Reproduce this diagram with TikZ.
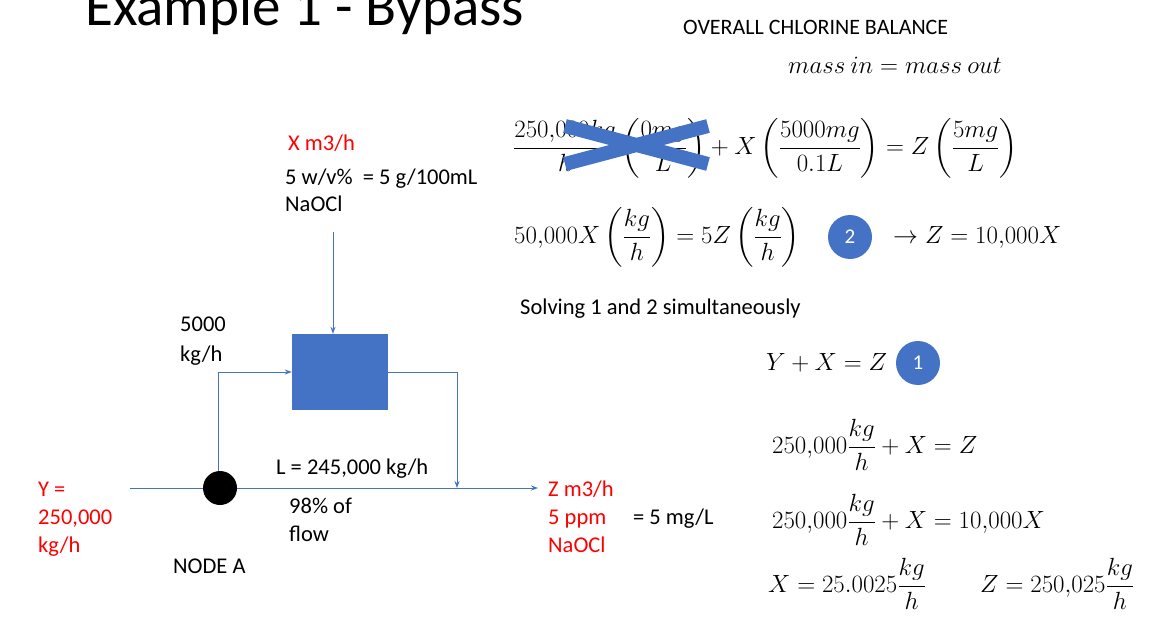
\documentclass[tikz,border=0pt]{standalone}
\usepackage{fontspec}
\setmainfont{Carlito}
\usepackage{amsmath}
\usetikzlibrary{arrows.meta}
\definecolor{bl}{HTML}{4472C4}
\definecolor{rd}{HTML}{FF0000}
\begin{document}
\begin{tikzpicture}[x=1pt,y=-1pt,
  t/.style={anchor=base west,inner sep=0,font=\fontsize{22.5}{24}\selectfont},
  m/.style={anchor=west,inner sep=0,font=\fontsize{23}{28}\selectfont},
  ln/.style={bl,line width=1pt},
  ar/.style={ln,-{Stealth[length=7pt,width=5pt]}},
  num/.style={circle,fill=bl,minimum size=44pt,inner sep=0,text=white,font=\fontsize{21}{24}\selectfont}]
\useasboundingbox (0,0) rectangle (1170,623);
\node[t,font=\fontsize{57}{60}\selectfont] (title) at (85,26) {Example 1 - Bypass};
% flowsheet
\node[circle,fill=black,minimum size=34pt,inner sep=0] (A) at (220,488) {};
\coordinate (in) at (130,488);
\coordinate (out) at (538,488);
\node[fill=bl,minimum width=96pt,minimum height=76pt,inner sep=0] (box) at (340,372) {};
\coordinate (top) at (333,232);
\coordinate (c1) at (218,372);
\coordinate (c2) at (457,372);
\coordinate (c3) at (457,488);
\draw[ln] (in) -- (A);
\draw[ar] (A) -- (out);
\draw[ar] (A.north -| c1) -- (c1) -- (box.west);
\draw[ar] (box.east) -- (c2) -- (c3);
\draw[ar] (top) -- (box.north -| top);
\node[t,text=rd] (xm) at (288,150) {X m3/h};
\node[t] (w1) at (285,184) {5 w/v\%\ \ = 5 g/100mL};
\node[t] (w2) at (285,211) {NaOCl};
\node[t] (k1) at (180,331) {5000};
\node[t] (k2) at (180,361) {kg/h};
\node[t] (L) at (276,474) {L = 245,000 kg/h};
\node[t] (p1) at (289,513) {98\% of};
\node[t] (p2) at (289,541) {flow};
\node[t,text=rd] (y1) at (38,496) {Y =};
\node[t,text=rd] (y2) at (38,524) {250,000};
\node[t,text=rd] (y3) at (38,552) {kg/h};
\node[t] (na) at (173,573) {NODE A};
\node[t,text=rd] (z1) at (548,496) {Z m3/h};
\node[t,text=rd] (z2) at (548,524) {5 ppm};
\node[t,text=rd] (z3) at (548,552) {NaOCl};
\node[t] (z4) at (633,524) {= 5 mg/L};
% right side
\node[t,font=\fontsize{22}{24}\selectfont] (ob) at (683,35) {OVERALL CHLORINE BALANCE};
\node[m] (e0) at (788,65) {$mass\ in=mass\ out$};
\node[m] (e1) at (513,148) {$\dfrac{250{,}000kg}{h}\left(\dfrac{0mg}{L}\right)+X\left(\dfrac{5000mg}{0.1L}\right)=Z\left(\dfrac{5mg}{L}\right)$};
\draw[bl,line width=14pt] (565,126) -- (708,164) (565,164) -- (708,126);
\node[m] (e2) at (514,237) {$50{,}000X\left(\dfrac{kg}{h}\right)=5Z\left(\dfrac{kg}{h}\right)$};
\node[num] (n2) at (850,237) {2};
\node[m] (e3) at (893,237) {$\rightarrow Z=10{,}000X$};
\node[t] (sv) at (520,314) {Solving 1 and 2 simultaneously};
\node[m] (e4) at (766,363) {$Y+X=Z$};
\node[num] (n1) at (918,363) {1};
\node[m] (e5) at (772,445) {$250{,}000\dfrac{kg}{h}+X=Z$};
\node[m] (e6) at (772,520) {$250{,}000\dfrac{kg}{h}+X=10{,}000X$};
\node[m] (e7) at (768,584) {$X=25.0025\dfrac{kg}{h}$};
\node[m] (e8) at (980,584) {$Z=250{,}025\dfrac{kg}{h}$};
\end{tikzpicture}
\end{document}
